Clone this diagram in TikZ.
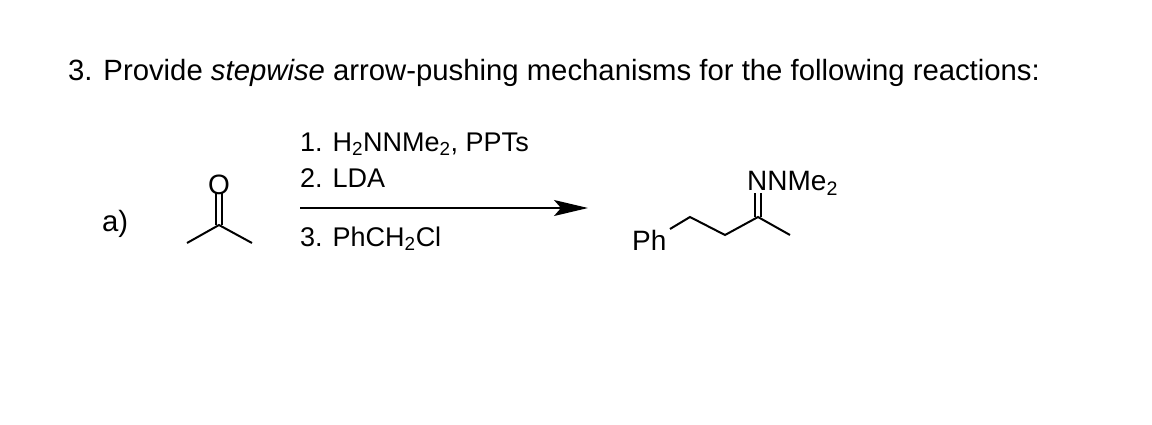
\documentclass[tikz,border=0pt]{standalone}
\usepackage{fontspec}
\setmainfont{Liberation Sans}
\usetikzlibrary{arrows.meta}
\begin{document}
\begin{tikzpicture}[x=1pt,y=-1pt,
  bond/.style={line width=2pt},
  big/.style={font=\fontsize{29.3}{33}\selectfont},
  chem/.style={font=\fontsize{28}{32}\selectfont},
  reag/.style={font=\fontsize{27}{31}\selectfont, anchor=base west, inner sep=0}]
\useasboundingbox[fill=white] (0,0) rectangle (1152,424);
\node[big, anchor=base west, inner sep=0] (title) at (68,80) {3. Provide \textit{stepwise} arrow-pushing mechanisms for the following reactions:};
\node[big, anchor=base west, inner sep=0] (a) at (102,231) {a)};
% acetone
\node[chem, inner sep=0pt] (O) at (219,185) {O};
\coordinate (c1) at (219,225);
\coordinate (m1) at (187,243);
\coordinate (m2) at (252,243);
\draw[bond] (m1) -- (c1) -- (m2);
\draw[bond] ([xshift=-3]c1) -- ([xshift=-3,yshift=2]O.south);
\draw[bond] ([xshift=3]c1) -- ([xshift=3,yshift=2]O.south);
% arrow
\coordinate (s) at (300,208);
\coordinate (e) at (588,208);
\draw[line width=1.3pt, -{Stealth[length=34pt,width=16pt,inset=7pt]}] (s) -- (e);
\node[reag] (r1) at (300,151) {1. H\textsubscript{2}NNMe\textsubscript{2}, PPTs};
\node[reag] (r2) at (300,187) {2. LDA};
\node[reag] (r3) at (300,246) {3. PhCH\textsubscript{2}Cl};
% product
\node[chem, inner sep=0, anchor=base west] (Ph) at (632,250) {Ph};
\coordinate (p1) at (690,217);
\coordinate (p2) at (725,235);
\coordinate (p3) at (758,217);
\coordinate (p4) at (790,235);
\draw[bond] (670,229) -- (p1) -- (p2) -- (p3) -- (p4);
\node[chem, inner sep=0, anchor=base west] (N) at (747,190) {NNMe\textsubscript{2}};
\draw[bond] ([xshift=-3]p3) -- ++(0,-24);
\draw[bond] ([xshift=3]p3) -- ++(0,-24);
\end{tikzpicture}
\end{document}
